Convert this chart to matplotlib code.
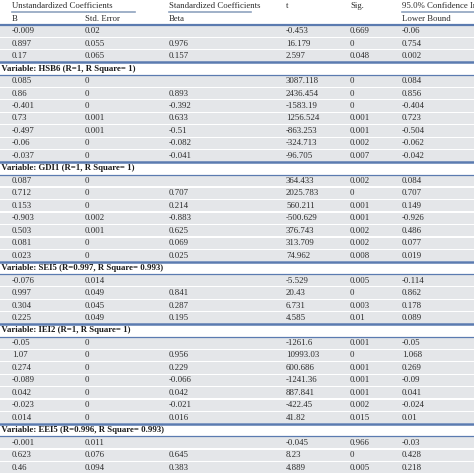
import matplotlib.pyplot as plt
from matplotlib.patches import Rectangle

headers1 = ["Unstandardized Coefficients", "", "Standardized Coefficients", "t", "Sig.", "95.0% Confidence Interval"]
headers2 = ["B", "Std. Error", "Beta", "", "", "Lower Bound"]

groups = [
    (None, [
        ["-0.009", "0.02", "", "-0.453", "0.669", "-0.06"],
        ["0.897", "0.055", "0.976", "16.179", "0", "0.754"],
        ["0.17", "0.065", "0.157", "2.597", "0.048", "0.002"],
    ]),
    ("Dependent Variable: HSB6 (R=1, R Square= 1)", [
        ["0.085", "0", "", "3087.118", "0", "0.084"],
        ["0.86", "0", "0.893", "2436.454", "0", "0.856"],
        ["-0.401", "0", "-0.392", "-1583.19", "0", "-0.404"],
        ["0.73", "0.001", "0.633", "1256.524", "0.001", "0.723"],
        ["-0.497", "0.001", "-0.51", "-863.253", "0.001", "-0.504"],
        ["-0.06", "0", "-0.082", "-324.713", "0.002", "-0.062"],
        ["-0.037", "0", "-0.041", "-96.705", "0.007", "-0.042"],
    ]),
    ("Dependent Variable: GDI1 (R=1, R Square= 1)", [
        ["0.087", "0", "", "364.433", "0.002", "0.084"],
        ["0.712", "0", "0.707", "2025.783", "0", "0.707"],
        ["0.153", "0", "0.214", "560.211", "0.001", "0.149"],
        ["-0.903", "0.002", "-0.883", "-500.629", "0.001", "-0.926"],
        ["0.503", "0.001", "0.625", "376.743", "0.002", "0.486"],
        ["0.081", "0", "0.069", "313.709", "0.002", "0.077"],
        ["0.023", "0", "0.025", "74.962", "0.008", "0.019"],
    ]),
    ("Dependent Variable: SEI5 (R=0.997, R Square= 0.993)", [
        ["-0.076", "0.014", "", "-5.529", "0.005", "-0.114"],
        ["0.997", "0.049", "0.841", "20.43", "0", "0.862"],
        ["0.304", "0.045", "0.287", "6.731", "0.003", "0.178"],
        ["0.225", "0.049", "0.195", "4.585", "0.01", "0.089"],
    ]),
    ("Dependent Variable: IEI2 (R=1, R Square= 1)", [
        ["-0.05", "0", "", "-1261.6", "0.001", "-0.05"],
        ["1.07", "0", "0.956", "10993.03", "0", "1.068"],
        ["0.274", "0", "0.229", "600.686", "0.001", "0.269"],
        ["-0.089", "0", "-0.066", "-1241.36", "0.001", "-0.09"],
        ["0.042", "0", "0.042", "887.841", "0.001", "0.041"],
        ["-0.023", "0", "-0.021", "-422.45", "0.002", "-0.024"],
        ["0.014", "0", "0.016", "41.82", "0.015", "0.01"],
    ]),
    ("Dependent Variable: EEI5 (R=0.996, R Square= 0.993)", [
        ["-0.001", "0.011", "", "-0.045", "0.966", "-0.03"],
        ["0.623", "0.076", "0.645", "8.23", "0", "0.428"],
        ["0.46", "0.094", "0.383", "4.889", "0.005", "0.218"],
    ]),
]

col_x = [12, 85, 169, 286, 350, 402]
W = 474
rh = 12.47
fs = 6.3
blue = "#5b7bb0"
gray = "#e4e6e9"
font = "Liberation Serif"
txt = "#2a2a2a"

fig = plt.figure(figsize=(4.74, 4.74), dpi=100)
ax = fig.add_axes([0, 0, 1, 1])
ax.set_xlim(0, W)
ax.set_ylim(W, 0)
ax.axis("off")

# header rows
for x, h in zip(col_x, headers1):
    if h:
        ax.text(x, rh * 0.45, h, fontsize=fs, family=font, color=txt, va="center")
for x0, x1 in [(12, 135), (169, 251), (402, 474)]:
    ax.plot([x0, x1], [rh * 0.95, rh * 0.95], color="#8fa3bf", lw=1.2)
for x, h in zip(col_x, headers2):
    if h:
        ax.text(x, rh * 1.5, h, fontsize=fs, family=font, color=txt, va="center")
ax.plot([0, W], [2 * rh, 2 * rh], color=blue, lw=1.6)

y = 2 * rh
for title, rows in groups:
    if title:
        ax.plot([0, W], [y, y], color=blue, lw=1.8)
        ax.text(-41, y + rh / 2, title, fontsize=fs, family=font, weight="bold",
                color="#1a1a1a", va="center", clip_on=True)
        y += rh
        ax.plot([0, W], [y, y], color=blue, lw=0.9)
    for r in rows:
        ax.add_patch(Rectangle((0, y + 0.6), W, rh - 1.2, color=gray, lw=0))
        for x, v in zip(col_x, r):
            ax.text(x, y + rh / 2, v, fontsize=fs, family=font, color=txt, va="center")
        y += rh

fig.savefig("out.png", dpi=100)
